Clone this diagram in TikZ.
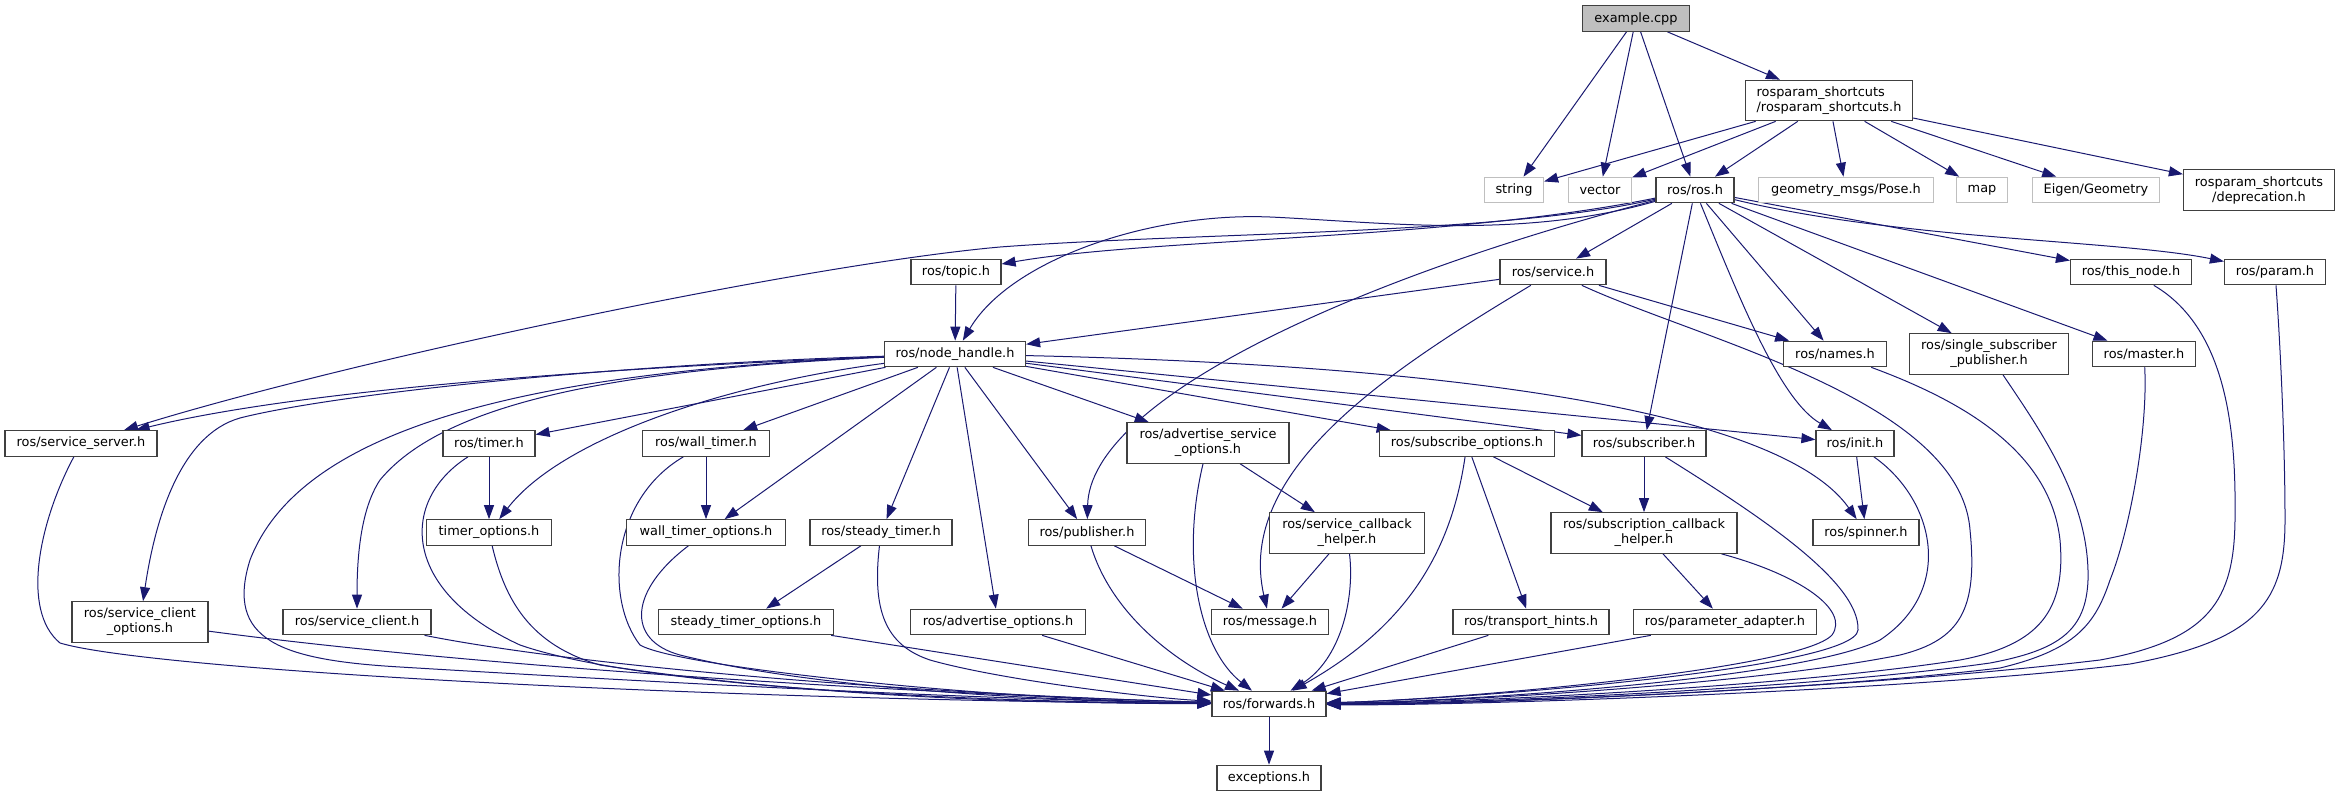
\documentclass[tikz,border=0pt]{standalone}
\usepackage{fontspec}
\setmainfont{DejaVu Sans}
\usetikzlibrary{arrows.meta}
\definecolor{edgec}{HTML}{191970}
\definecolor{nodeb}{HTML}{404040}
\definecolor{extb}{HTML}{BFBFBF}
\pgfdeclarelayer{bg}
\pgfsetlayers{bg,main}
\begin{document}
\begin{tikzpicture}[x=0.5pt,y=-0.5pt,
  nd/.style={draw=nodeb, line width=0.6pt, fill=white, inner sep=0pt, minimum height=12.75pt, align=center, font=\fontsize{6.45pt}{7.5pt}\selectfont},
  ext/.style={nd, draw=extb},
  two/.style={minimum height=20.25pt},
  e/.style={draw=edgec, line width=0.5pt, -{Triangle[length=7pt,width=5pt]}}]
\useasboundingbox (0,0) rectangle (2339,797);
% nodes
\node[nd, fill=extb, draw=nodeb, minimum width=53.5pt] (ex) at (1636,18.5) {example.cpp};
\node[nd,two,align=left,minimum width=83.5pt] (rps) at (1829,100.5) {rosparam\_shortcuts\\/rosparam\_shortcuts.h};
\node[ext,minimum width=29.5pt] (str) at (1514,190) {string};
\node[ext,minimum width=31.5pt] (vec) at (1600,190) {vector};
\node[nd,minimum width=39pt] (ros) at (1695,190) {ros/ros.h};
\node[ext,minimum width=87.5pt] (pose) at (1846,190) {geometry\_msgs/Pose.h};
\node[ext,minimum width=25.5pt] (map) at (1982,190) {map};
\node[ext,minimum width=63.5pt] (eig) at (2096,190) {Eigen/Geometry};
\node[nd,two,minimum width=75.5pt] (dep) at (2259,190) {rosparam\_shortcuts\\/deprecation.h};
\node[nd,minimum width=45pt] (topic) at (956,272) {ros/topic.h};
\node[nd,minimum width=53pt] (svc) at (1553,272) {ros/service.h};
\node[nd,minimum width=60.5pt] (thisn) at (2131,272) {ros/this\_node.h};
\node[nd,minimum width=50.5pt] (param) at (2275,272) {ros/param.h};
\node[nd,minimum width=70.5pt] (nh) at (955,354) {ros/node\_handle.h};
\node[nd,minimum width=51.5pt] (names) at (1835,354) {ros/names.h};
\node[nd,two,minimum width=79.5pt] (ssp) at (1989,354) {ros/single\_subscriber\\\_publisher.h};
\node[nd,minimum width=51.5pt] (master) at (2144,354) {ros/master.h};
\node[nd,minimum width=76pt] (ss) at (81,443.5) {ros/service\_server.h};
\node[nd,minimum width=46pt] (timer) at (489,443.5) {ros/timer.h};
\node[nd,minimum width=63.5pt] (wt) at (706,443.5) {ros/wall\_timer.h};
\node[nd,two,minimum width=81pt] (aso) at (1208,443) {ros/advertise\_service\\\_options.h};
\node[nd,minimum width=87.5pt] (so) at (1467,443.5) {ros/subscribe\_options.h};
\node[nd,minimum width=62pt] (sub) at (1644,443.5) {ros/subscriber.h};
\node[nd,minimum width=39pt] (init) at (1855,443.5) {ros/init.h};
\node[nd,minimum width=62.5pt] (to) at (489,532.5) {timer\_options.h};
\node[nd,minimum width=79.5pt] (wto) at (706,532.5) {wall\_timer\_options.h};
\node[nd,minimum width=71pt] (st) at (881,532.5) {ros/steady\_timer.h};
\node[nd,minimum width=58.5pt] (pub) at (1087,532.5) {ros/publisher.h};
\node[nd,two,minimum width=77.5pt] (sch) at (1347,533) {ros/service\_callback\\\_helper.h};
\node[nd,two,minimum width=93pt] (scbh) at (1644,533) {ros/subscription\_callback\\\_helper.h};
\node[nd,minimum width=53pt] (spin) at (1866,532.5) {ros/spinner.h};
\node[nd,two,minimum width=68pt] (sco) at (140,622) {ros/service\_client\\\_options.h};
\node[nd,minimum width=74pt] (sc) at (357,622) {ros/service\_client.h};
\node[nd,minimum width=87.5pt] (sto) at (746,622) {steady\_timer\_options.h};
\node[nd,minimum width=87.5pt] (ao) at (998,622) {ros/advertise\_options.h};
\node[nd,minimum width=58.5pt] (msg) at (1270,622) {ros/message.h};
\node[nd,minimum width=78pt] (th) at (1531,622) {ros/transport\_hints.h};
\node[nd,minimum width=91.5pt] (pa) at (1725,622) {ros/parameter\_adapter.h};
\node[nd,minimum width=57pt] (fwd) at (1269,704) {ros/forwards.h};
\node[nd,minimum width=52pt] (exc) at (1269,778) {exceptions.h};
% edges
\begin{pgfonlayer}{bg}
% example.cpp
\draw[e] (ex) -- (str);
\draw[e] (ex) -- (vec);
\draw[e] (ex) -- (ros);
\draw[e] (ex) -- (rps);
% rosparam_shortcuts.h
\draw[e] (rps) -- (str);
\draw[e] (rps) -- (vec);
\draw[e] (rps) -- (ros);
\draw[e] (rps) -- (pose);
\draw[e] (rps) -- (map);
\draw[e] (rps) -- (eig);
\draw[e] (rps) -- (dep);
% ros.h
\draw[e] (ros) .. controls (1500,235) and (1200,232) .. (1000,247) .. controls (800,265) and (350,360) .. (ss);
\draw[e] (ros) .. controls (1520,240) and (1380,222) .. (1270,217) .. controls (1150,212) and (1010,260) .. (nh);
\draw[e] (ros) .. controls (1450,240) and (1150,238) .. (topic);
\draw[e] (ros) -- (svc);
\draw[e] (ros) .. controls (1350,280) and (1090,400) .. (pub);
\draw[e] (ros) -- (sub);
\draw[e] (ros) -- (names);
\draw[e] (ros) .. controls (1740,300) and (1780,400) .. (init);
\draw[e] (ros) -- (ssp);
\draw[e] (ros) -- (master);
\draw[e] (ros) -- (thisn);
\draw[e] (ros) .. controls (1900,240) and (2120,240) .. (param);
% topic, service
\draw[e] (topic) -- (nh);
\draw[e] (svc) -- (nh);
\draw[e] (svc) -- (names);
\draw[e] (svc) .. controls (1390,370) and (1235,470) .. (msg);
\draw[e] (svc) .. controls (1700,340) and (1960,400) .. (1970,530) .. controls (1978,610) and (1960,640) .. (1900,655) .. controls (1750,685) and (1450,702) .. (fwd);
% right side into forwards
\draw[e] (names) .. controls (1960,400) and (2050,450) .. (2060,540) .. controls (2066,610) and (2040,645) .. (1960,660) .. controls (1780,688) and (1450,703) .. (fwd);
\draw[e] (ssp) .. controls (2040,430) and (2090,500) .. (2088,580) .. controls (2086,630) and (2060,650) .. (1990,663) .. controls (1800,690) and (1450,704) .. (fwd);
\draw[e] (master) .. controls (2148,430) and (2130,530) .. (2110,580) .. controls (2095,625) and (2075,650) .. (2000,668) .. controls (1800,692) and (1450,705) .. (fwd);
\draw[e] (thisn) .. controls (2230,330) and (2236,440) .. (2235,520) .. controls (2234,600) and (2210,640) .. (2100,660) .. controls (1850,690) and (1450,705) .. (fwd);
\draw[e] (param) .. controls (2280,340) and (2285,440) .. (2285,520) .. controls (2285,600) and (2260,640) .. (2130,664) .. controls (1900,692) and (1450,706) .. (fwd);
\draw[e] (init) .. controls (1935,500) and (1955,590) .. (1880,640) .. controls (1800,680) and (1450,702) .. (fwd);
\draw[e] (sub) .. controls (1750,510) and (1860,580) .. (1858,630) .. controls (1855,670) and (1450,700) .. (fwd);
\draw[e] (scbh) .. controls (1800,575) and (1850,610) .. (1832,635) .. controls (1800,670) and (1450,700) .. (fwd);
\draw[e] (pa) -- (fwd);
% node_handle.h
\draw[e] (nh) .. controls (600,368) and (300,390) .. (ss);
\draw[e] (nh) .. controls (600,365) and (330,395) .. (240,418) .. controls (180,435) and (155,520) .. (sco);
\draw[e] (nh) .. controls (520,372) and (300,430) .. (250,560) .. controls (225,640) and (280,660) .. (400,667) .. controls (700,685) and (1000,700) .. (fwd);
\draw[e] (nh) .. controls (650,368) and (450,395) .. (380,480) .. controls (360,510) and (357,560) .. (sc);
\draw[e] (nh) -- (timer);
\draw[e] (nh) .. controls (720,385) and (560,440) .. (to);
\draw[e] (nh) -- (wt);
\draw[e] (nh) -- (wto);
\draw[e] (nh) -- (st);
\draw[e] (nh) -- (ao);
\draw[e] (nh) -- (pub);
\draw[e] (nh) -- (aso);
\draw[e] (nh) -- (so);
\draw[e] (nh) -- (sub);
\draw[e] (nh) -- (init);
\draw[e] (nh) .. controls (1450,365) and (1780,410) .. (spin);
% left side into forwards
\draw[e] (ss) .. controls (40,520) and (20,610) .. (60,643) .. controls (150,670) and (700,700) .. (fwd);
\draw[e] (sco) .. controls (500,670) and (950,695) .. (fwd);
\draw[e] (sc) .. controls (600,670) and (950,695) .. (fwd);
\draw[e] (timer) .. controls (400,500) and (400,590) .. (520,645) .. controls (650,690) and (1000,702) .. (fwd);
\draw[e] (to) .. controls (505,600) and (530,645) .. (600,665) .. controls (800,695) and (1000,703) .. (fwd);
\draw[e] (wt) .. controls (610,500) and (605,600) .. (640,645) .. controls (680,668) and (1000,700) .. (fwd);
\draw[e] (wto) .. controls (630,590) and (625,640) .. (680,655) .. controls (800,685) and (1000,700) .. (fwd);
\draw[e] (st) .. controls (872,610) and (885,645) .. (930,660) .. controls (1000,680) and (1150,698) .. (fwd);
\draw[e] (sto) -- (fwd);
\draw[e] (ao) -- (fwd);
\draw[e] (pub) .. controls (1110,610) and (1170,660) .. (fwd);
\draw[e] (aso) .. controls (1180,560) and (1200,650) .. (fwd);
\draw[e] (sch) .. controls (1355,600) and (1340,660) .. (fwd);
\draw[e] (so) .. controls (1450,560) and (1400,630) .. (fwd);
\draw[e] (th) -- (fwd);
% others
\draw[e] (timer) -- (to);
\draw[e] (wt) -- (wto);
\draw[e] (st) -- (sto);
\draw[e] (pub) -- (msg);
\draw[e] (aso) -- (sch);
\draw[e] (sch) -- (msg);
\draw[e] (so) -- (th);
\draw[e] (so) -- (scbh);
\draw[e] (sub) -- (scbh);
\draw[e] (scbh) -- (pa);
\draw[e] (init) -- (spin);
\draw[e] (fwd) -- (exc);
\end{pgfonlayer}
\end{tikzpicture}
\end{document}
